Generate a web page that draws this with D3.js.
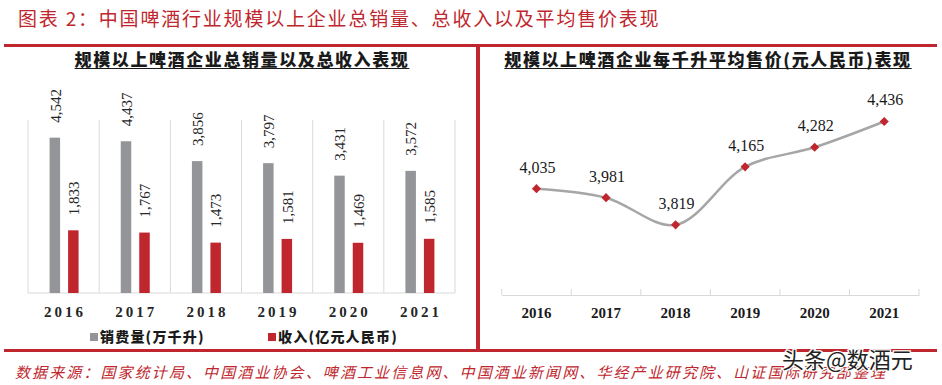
<!DOCTYPE html>
<html>
<head>
<meta charset="utf-8">
<script src="https://cdn.jsdelivr.net/npm/d3@7"></script>
<style>
  html, body { margin: 0; padding: 0; background: #fff; }
  svg { display: block; }
</style>
</head>
<body>
<svg id="chart" width="942" height="385"></svg>
<script>
// data
var years = [ '2016', '2017', '2018', '2019', '2020', '2021' ];
var volume = [ 4542, 4437, 3856, 3797, 3431, 3572 ];     // 万千升
var revenue = [ 1833, 1767, 1473, 1581, 1469, 1585 ];    // 亿元人民币
var price = [ 4035, 3981, 3819, 4165, 4282, 4436 ];      // 元/千升

var RED = '#c0262d',
    GREY = '#939598',
    GRID = '#d9d9d9',
    CJK = '"Noto Sans CJK SC", sans-serif',
    SERIF = '"Liberation Serif", "Times New Roman", serif';

var svg = d3.select( '#chart' );
var fmt = d3.format( ',' );

// page title
svg.append( 'text' )
    .attr( 'x', 18 ).attr( 'y', 26 )
    .attr( 'fill', RED )
    .style( 'font-family', CJK ).style( 'font-size', '19px' )
    .style( 'letter-spacing', '1.8px' )
    .text( '图表 2：中国啤酒行业规模以上企业总销量、总收入以及平均售价表现' );

// frame: top, bottom, divider
svg.append( 'rect' ).attr( 'x', 4 ).attr( 'y', 44 ).attr( 'width', 933 ).attr( 'height', 3 ).attr( 'fill', RED );
svg.append( 'rect' ).attr( 'x', 4 ).attr( 'y', 349 ).attr( 'width', 933 ).attr( 'height', 3 ).attr( 'fill', RED );
svg.append( 'rect' ).attr( 'x', 476 ).attr( 'y', 44 ).attr( 'width', 4 ).attr( 'height', 308 ).attr( 'fill', RED );

function panelTitle( cx, y, label ){
    var t = svg.append( 'text' )
        .attr( 'x', cx ).attr( 'y', y )
        .attr( 'text-anchor', 'middle' )
        .attr( 'fill', '#1a1a1a' )
        .style( 'font-family', CJK ).style( 'font-size', '17px' )
        .style( 'font-weight', 900 )
        .style( 'letter-spacing', '1.6px' )
        .text( label );
    var b = t.node().getBBox();
    svg.append( 'line' )
        .attr( 'x1', b.x ).attr( 'x2', b.x + b.width )
        .attr( 'y1', y + 2.5 ).attr( 'y2', y + 2.5 )
        .attr( 'stroke', '#1a1a1a' ).attr( 'stroke-width', 1 );
}

panelTitle( 242, 66, '规模以上啤酒企业总销量以及总收入表现' );
panelTitle( 708, 66, '规模以上啤酒企业每千升平均售价(元人民币)表现' );

// ---- left: bars ----
var x0 = d3.scaleBand().domain( years ).range( [ 28, 455 ] );
var yL = d3.scaleLinear().domain( [ 0, 5000 ] ).range( [ 293, 122 ] );

var left = svg.append( 'g' );

left.selectAll( 'line.grid' )
    .data( x0.domain().concat( [ null ] ) )
    .enter().append( 'line' )
    .attr( 'class', 'grid' )
    .attr( 'x1', function( d ){ return d === null ? x0.range()[1] : x0( d ); } )
    .attr( 'x2', function( d ){ return d === null ? x0.range()[1] : x0( d ); } )
    .attr( 'y1', 120 ).attr( 'y2', 293 )
    .attr( 'stroke', GRID ).attr( 'stroke-width', 1 );

left.append( 'line' )
    .attr( 'x1', 28 ).attr( 'x2', 455 ).attr( 'y1', 293 ).attr( 'y2', 293 )
    .attr( 'stroke', GRID );

var series = [
    { values: volume, color: GREY, off: -9 },
    { values: revenue, color: RED, off: 9.5 }
];

series.forEach( function( s ){
    var cx = function( d, i ){ return x0( years[i] ) + x0.bandwidth() / 2 + s.off; };

    left.selectAll( null )
        .data( s.values )
        .enter().append( 'rect' )
        .attr( 'x', function( d, i ){ return cx( d, i ) - 5; } )
        .attr( 'width', 10.5 )
        .attr( 'y', function( d ){ return yL( d ); } )
        .attr( 'height', function( d ){ return yL( 0 ) - yL( d ); } )
        .attr( 'fill', s.color );

    left.selectAll( null )
        .data( s.values )
        .enter().append( 'text' )
        .attr( 'transform', function( d, i ){
            return 'translate(' + ( cx( d, i ) + 6 ) + ',' + ( yL( d ) - 15 ) + ') rotate(-90)';
        } )
        .attr( 'fill', '#262626' )
        .style( 'font-family', SERIF ).style( 'font-size', '15px' )
        .text( function( d ){ return fmt( d ); } );
});

left.selectAll( 'text.yr' )
    .data( years )
    .enter().append( 'text' )
    .attr( 'class', 'yr' )
    .attr( 'x', function( d ){ return x0( d ) + x0.bandwidth() / 2 + 1.5; } )
    .attr( 'y', 317 )
    .attr( 'text-anchor', 'middle' )
    .attr( 'fill', '#262626' )
    .style( 'font-family', SERIF ).style( 'font-size', '15px' )
    .style( 'font-weight', 'bold' ).style( 'letter-spacing', '3px' )
    .text( function( d ){ return d; } );

// legend
var legend = [
    { label: '销费量(万千升)', color: GREY, x: 90 },
    { label: '收入(亿元人民币)', color: RED, x: 268 }
];
legend.forEach( function( l ){
    left.append( 'rect' )
        .attr( 'x', l.x ).attr( 'y', 333 ).attr( 'width', 8 ).attr( 'height', 8 )
        .attr( 'fill', l.color );
    left.append( 'text' )
        .attr( 'x', l.x + 10 ).attr( 'y', 342 )
        .attr( 'fill', '#1a1a1a' )
        .style( 'font-family', CJK ).style( 'font-size', '14px' )
        .style( 'font-weight', 900 ).style( 'letter-spacing', '1.2px' )
        .text( l.label );
});

// ---- right: line ----
var x1 = d3.scaleBand().domain( years ).range( [ 501.7, 919 ] );
var yR = d3.scaleLinear().domain( [ 3400, 4600 ] ).range( [ 295, 94 ] );
var px = function( d, i ){ return x1( years[i] ) + x1.bandwidth() / 2; };

var right = svg.append( 'g' );

right.append( 'g' )
    .attr( 'transform', 'translate(0,295)' )
    .call( d3.axisBottom( x1 ).tickSize( 0 ).tickFormat( '' ) )
    .call( function( g ){
        g.select( '.domain' ).attr( 'stroke', GRID );
        g.selectAll( '.tick' ).remove();
    } );

right.selectAll( 'line.tk' )
    .data( years.concat( [ null ] ) )
    .enter().append( 'line' )
    .attr( 'class', 'tk' )
    .attr( 'x1', function( d ){ return d === null ? x1.range()[1] : x1( d ); } )
    .attr( 'x2', function( d ){ return d === null ? x1.range()[1] : x1( d ); } )
    .attr( 'y1', 289 ).attr( 'y2', 295 )
    .attr( 'stroke', GRID );

right.append( 'path' )
    .datum( price )
    .attr( 'fill', 'none' )
    .attr( 'stroke', '#a6a6a6' )
    .attr( 'stroke-width', 2.5 )
    .attr( 'd', d3.line()
        .x( px )
        .y( function( d ){ return yR( d ); } )
        .curve( d3.curveCatmullRom.alpha( 0.5 ) ) );

right.selectAll( 'path.mk' )
    .data( price )
    .enter().append( 'path' )
    .attr( 'class', 'mk' )
    .attr( 'transform', function( d, i ){ return 'translate(' + px( d, i ) + ',' + yR( d ) + ') rotate(45)'; } )
    .attr( 'd', d3.symbol().type( d3.symbolSquare ).size( 42 ) )
    .attr( 'fill', RED );

right.selectAll( 'text.val' )
    .data( price )
    .enter().append( 'text' )
    .attr( 'class', 'val' )
    .attr( 'x', function( d, i ){ return px( d, i ) + 1; } )
    .attr( 'y', function( d ){ return yR( d ) - 16; } )
    .attr( 'text-anchor', 'middle' )
    .attr( 'fill', '#1a1a1a' )
    .style( 'font-family', SERIF ).style( 'font-size', '16px' )
    .text( function( d ){ return fmt( d ); } );

right.selectAll( 'text.yr' )
    .data( years )
    .enter().append( 'text' )
    .attr( 'class', 'yr' )
    .attr( 'x', function( d ){ return x1( d ) + x1.bandwidth() / 2; } )
    .attr( 'y', 318 )
    .attr( 'text-anchor', 'middle' )
    .attr( 'fill', '#1a1a1a' )
    .style( 'font-family', SERIF ).style( 'font-size', '15px' )
    .style( 'font-weight', 'bold' )
    .text( function( d ){ return d; } );

// source line
svg.append( 'text' )
    .attr( 'x', 15 ).attr( 'y', 378 )
    .attr( 'fill', RED )
    .style( 'font-family', CJK ).style( 'font-size', '15px' )
    .style( 'font-style', 'italic' ).style( 'letter-spacing', '2.1px' )
    .text( '数据来源：国家统计局、中国酒业协会、啤酒工业信息网、中国酒业新闻网、华经产业研究院、山证国际研究部整理' );

// watermark
svg.append( 'text' )
    .attr( 'x', 782 ).attr( 'y', 368 )
    .attr( 'fill', '#222' )
    .attr( 'stroke', '#fff' ).attr( 'stroke-width', 2.5 )
    .attr( 'paint-order', 'stroke' )
    .style( 'font-family', CJK ).style( 'font-size', '22px' )
    .text( '头条@数酒元' );
</script>
</body>
</html>
